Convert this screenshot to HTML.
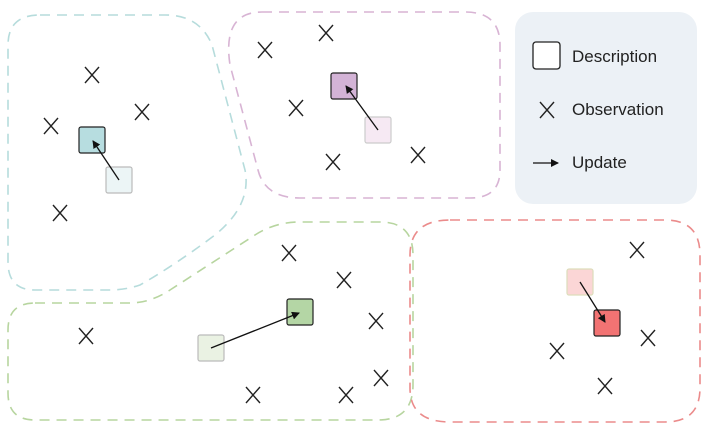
<!DOCTYPE html>
<html><head><style>body{margin:0;background:#fff}svg{display:block}text{font-family:"Liberation Sans",sans-serif;font-size:17px;fill:#222}</style></head><body>
<svg width="711" height="436" viewBox="0 0 711 436" xmlns="http://www.w3.org/2000/svg">
<defs><marker id="a" markerWidth="8" markerHeight="8" refX="7" refY="4" orient="auto" markerUnits="userSpaceOnUse"><path d="M0,0 L8,4 L0,8 z" fill="#111"/></marker>
<g id="x"><path d="M-7,-8 L7,8 M7,-8 L-7,8" stroke="#222" stroke-width="1.4"/></g></defs>
<g fill="none" stroke-width="1.6" stroke-dasharray="10,7">
<path d="M40,15 L165,15 Q200,15 212,45 L245,170 Q252,205 215,235 Q175,265 140,285 Q125,290 110,290 L35,290 Q8,290 8,262 L8,45 Q8,15 40,15 Z" stroke="#b6dcdc"/>
<path d="M262,12 L465,12 Q500,12 500,45 L500,170 Q500,198 470,198 L300,198 Q265,198 258,170 L230,65 Q222,12 262,12 Z" stroke="#d8b4d4"/>
<path d="M35,303 L130,303 Q150,303 170,290 L255,235 Q275,222 300,222 L380,222 Q413,222 413,255 L413,385 Q413,420 378,420 L35,420 Q8,420 8,393 L8,330 Q8,303 35,303 Z" stroke="#b7d59f"/>
<path d="M450,220 L665,220 Q700,220 700,255 L700,388 Q700,422 665,422 L450,422 Q410,422 410,388 L410,255 Q410,220 450,220 Z" stroke="#eb8b8b"/>
</g>
<rect x="515" y="12" width="182" height="192" rx="18" fill="#ecf1f6"/>
<rect x="533" y="42" width="27" height="27" rx="3" fill="#fff" stroke="#222" stroke-width="1.3"/>
<text x="572" y="62">Description</text>
<use href="#x" x="547" y="110"/>
<text x="572" y="115">Observation</text>
<line x1="533" y1="163" x2="558" y2="163" stroke="#111" stroke-width="1.3" marker-end="url(#a)"/>
<text x="572" y="168">Update</text>
<g>
<use href="#x" x="92" y="75"/><use href="#x" x="142" y="112"/><use href="#x" x="51" y="126"/><use href="#x" x="60" y="213"/>
<use href="#x" x="265" y="50"/><use href="#x" x="326" y="33"/><use href="#x" x="296" y="108"/><use href="#x" x="418" y="155"/><use href="#x" x="333" y="162"/>
<use href="#x" x="289" y="253"/><use href="#x" x="344" y="280"/><use href="#x" x="86" y="336"/><use href="#x" x="376" y="321"/><use href="#x" x="381" y="378"/><use href="#x" x="253" y="395"/><use href="#x" x="346" y="395"/>
<use href="#x" x="637" y="250"/><use href="#x" x="557" y="351"/><use href="#x" x="648" y="338"/><use href="#x" x="605" y="386"/>
</g>
<g stroke-width="1.2">
<rect x="106" y="167" width="26" height="26" rx="2" fill="#ecf5f6" stroke="#bbb"/>
<rect x="79" y="127" width="26" height="26" rx="2" fill="#b7dde0" stroke="#222"/>
<rect x="365" y="117" width="26" height="26" rx="2" fill="#f6e9f3" stroke="#ccc"/>
<rect x="331" y="73" width="26" height="26" rx="2" fill="#d3b3d6" stroke="#222"/>
<rect x="198" y="335" width="26" height="26" rx="2" fill="#eaf2e3" stroke="#bbb"/>
<rect x="287" y="299" width="26" height="26" rx="2" fill="#b4d6a5" stroke="#222"/>
<rect x="567" y="269" width="26" height="26" rx="2" fill="#fbd6d6" stroke="#ddb"/>
<rect x="594" y="310" width="26" height="26" rx="2" fill="#f27373" stroke="#222"/>
</g>
<g stroke="#111" stroke-width="1.3" marker-end="url(#a)">
<line x1="119" y1="180" x2="93" y2="141"/>
<line x1="378" y1="130" x2="346" y2="86"/>
<line x1="211" y1="348" x2="299" y2="313"/>
<line x1="580" y1="282" x2="605" y2="322"/>
</g>
</svg>
</body></html>
